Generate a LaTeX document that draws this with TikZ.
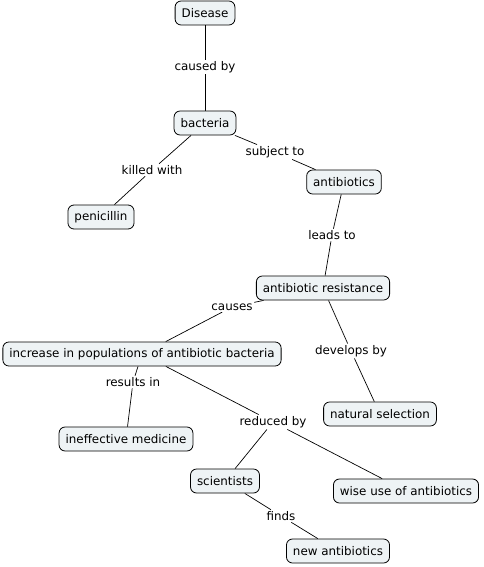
\documentclass[tikz,border=0pt]{standalone}
\usepackage{fontspec}
\setmainfont{DejaVu Sans}
\usetikzlibrary{backgrounds}
\definecolor{nodefill}{HTML}{EEF3F5}
\tikzset{
  concept/.style={draw=black, line width=0.8pt, fill=nodefill, rounded corners=6pt,
    minimum height=24pt, inner xsep=6.5pt, inner ysep=2pt, font=\fontsize{11.9}{14}\selectfont},
  link/.style={fill=white, inner sep=1.5pt, font=\fontsize{11.9}{14}\selectfont},
  conn/.style={draw=black, line width=0.7pt}
}
\begin{document}
\begin{tikzpicture}[x=1pt,y=-1pt]
\useasboundingbox (0,0) rectangle (484,567);
% concepts
\node[concept] (disease) at (205,13) {Disease};
\node[concept] (bacteria) at (205,123) {bacteria};
\node[concept] (antibiotics) at (344,182) {antibiotics};
\node[concept] (penicillin) at (101,217) {penicillin};
\node[concept] (resist) at (323,288) {antibiotic resistance};
\node[concept] (increase) at (142,354) {increase in populations of antibiotic bacteria};
\node[concept] (natsel) at (380,414) {natural selection};
\node[concept] (ineff) at (126,439) {ineffective medicine};
\node[concept] (sci) at (225,481) {scientists};
\node[concept] (wise) at (406,491) {wise use of antibiotics};
\node[concept] (newab) at (338,551) {new antibiotics};
% links
\node[link] (l1) at (205,67) {caused by};
\node[link] (l2) at (152,170) {killed with};
\node[link] (l3) at (275,152) {subject to};
\node[link] (l4) at (332,235) {leads to};
\node[link] (l5) at (232,307) {causes};
\node[link] (l6) at (351,351) {develops by};
\node[link] (l7) at (133,382) {results in};
\node[link] (l8) at (273,422) {reduced by};
\node[link] (l9) at (281,516) {finds};
\begin{scope}[on background layer]
\fill[white] (0,0) rectangle (484,567);
\draw[conn] (disease) -- (l1) -- (bacteria);
\draw[conn] (bacteria) -- (l2) -- (penicillin);
\draw[conn] (bacteria) -- (l3) -- (antibiotics);
\draw[conn] (antibiotics) -- (l4) -- (resist);
\draw[conn] (resist) -- (l5) -- (increase);
\draw[conn] (resist) -- (l6) -- (natsel);
\draw[conn] (increase) -- (l7) -- (ineff);
\draw[conn] (increase) -- (l8);
\draw[conn] (l8) -- (sci);
\draw[conn] (l8) -- (wise);
\draw[conn] (sci) -- (l9) -- (newab);
\end{scope}
\end{tikzpicture}
\end{document}
